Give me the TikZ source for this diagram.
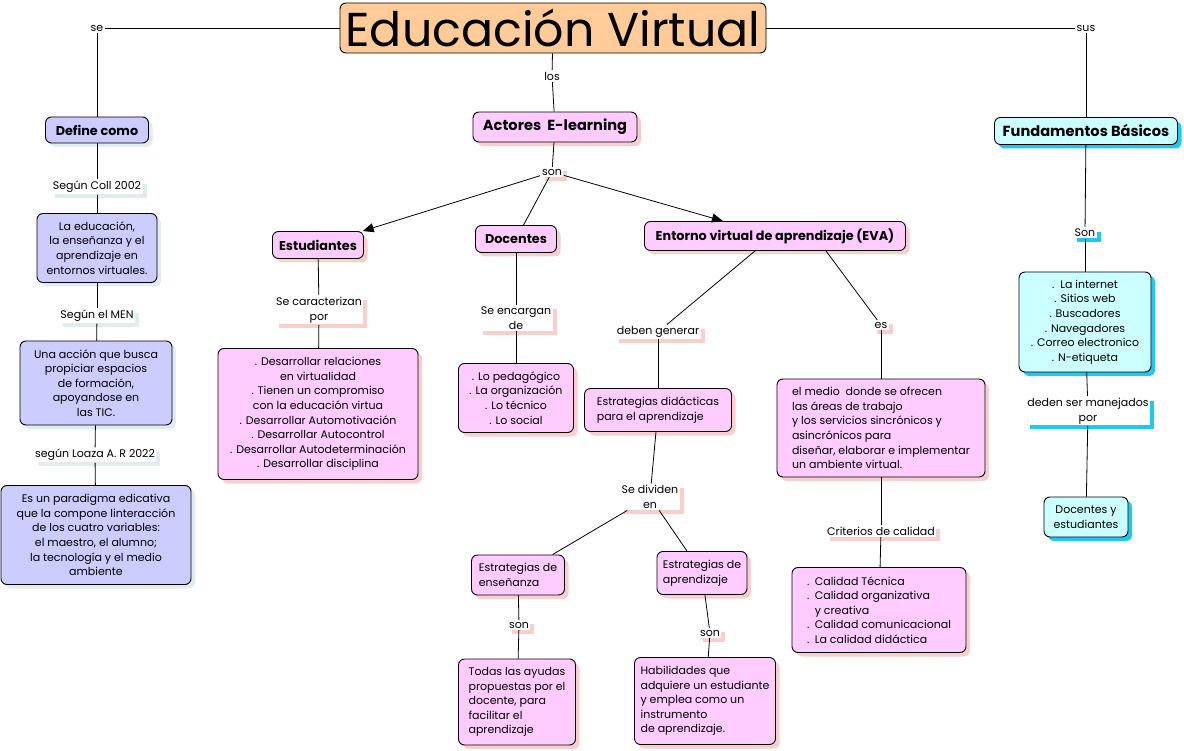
\documentclass[tikz,border=0pt]{standalone}
\usepackage{fontspec}
\setmainfont{Poppins}
\usepackage{tikz}
\usetikzlibrary{shadows,arrows.meta}
\definecolor{boxpeach}{HTML}{FFCC99}
\definecolor{boxblue}{HTML}{CCCCFF}
\definecolor{boxpink}{HTML}{FFCCFF}
\definecolor{boxcyan}{HTML}{CCFFFF}
\definecolor{shadowblue}{HTML}{E2ECEF}
\definecolor{shadowpink}{HTML}{F8CFCF}
\definecolor{shadowcyan}{HTML}{1EC8F0}
\tikzset{
	every concept/.style={
		draw,
		rounded corners=6pt,
		line width=0.9pt,
		align=center,
		inner sep=3pt,
		font=\fontsize{11}{14.6}\selectfont },
	concept blue/.style={
		fill=boxblue,
		drop shadow={shadow xshift=4pt, shadow yshift=-4pt, fill=shadowblue, opacity=1} },
	concept pink/.style={
		fill=boxpink,
		drop shadow={shadow xshift=4pt, shadow yshift=-4pt, fill=shadowpink, opacity=1} },
	concept cyan/.style={
		fill=boxcyan,
		drop shadow={shadow xshift=4pt, shadow yshift=-4pt, fill=shadowcyan, opacity=1} },
	head/.style={
		font=\fontsize{12.8}{15}\selectfont\bfseries },
	big head/.style={
		font=\fontsize{14.6}{17}\selectfont\bfseries },
	every phrase/.style={
		fill=white,
		inner sep=1.5pt,
		align=center,
		font=\fontsize{11}{14.6}\selectfont },
	phrase blue/.style={
		drop shadow={shadow xshift=4pt, shadow yshift=-4pt, fill=shadowblue, opacity=1} },
	phrase pink/.style={
		drop shadow={shadow xshift=4pt, shadow yshift=-4pt, fill=shadowpink, opacity=1} },
	phrase cyan/.style={
		drop shadow={shadow xshift=4pt, shadow yshift=-4pt, fill=shadowcyan, opacity=1} },
}
\begin{document}
\begin{tikzpicture}[x=1pt, y=-1pt, line width=0.8pt, >={Triangle[length=11pt,width=9pt]}]
	\useasboundingbox (0,0) rectangle (1184,751);

	\node [every concept, fill=boxpeach, minimum width=426pt, minimum height=50pt, font=\fontsize{47.5}{50}\selectfont] (title) at (553,28) {Educación Virtual};

	\node [every phrase] (se) at (97,28) {se};
	\node [every concept, concept blue, head, minimum width=103pt, minimum height=26pt] (define) at (97,130) {Define como};
	\node [every phrase, phrase blue] (coll) at (97,187) {Según Coll 2002};
	\node [every concept, concept blue, minimum width=120pt, minimum height=69pt] (educ) at (97,248) {La educación,\\la enseñanza y el\\aprendizaje en\\entornos virtuales.};
	\node [every phrase, phrase blue] (men) at (97,316) {Según el MEN};
	\node [every concept, concept blue, minimum width=152pt, minimum height=84pt] (accion) at (96,383) {Una acción que busca\\propiciar espacios\\de formación,\\apoyandose en\\las TIC.};
	\node [every phrase, phrase blue] (loaza) at (95,455) {según Loaza A. R 2022};
	\node [every concept, concept blue, minimum width=190pt, minimum height=99pt] (paradigma) at (96,535) {Es un paradigma edicativa\\que la compone linteracción\\de los cuatro variables:\\el maestro, el alumno;\\la tecnología y el medio\\ambiente};

	\node [every phrase] (los) at (552,76) {los};
	\node [every concept, concept pink, big head, minimum width=164pt, minimum height=30pt] (actores) at (555,127) {Actores\ \ E-learning};
	\node [every phrase, phrase pink] (son) at (552,172) {son};
	\node [every concept, concept pink, head, minimum width=91pt, minimum height=27pt] (estud) at (318,245) {Estudiantes};
	\node [every concept, concept pink, head, minimum width=81pt, minimum height=27pt] (docen) at (516,239) {Docentes};
	\node [every concept, concept pink, head, minimum width=261pt, minimum height=29pt] (eva) at (775,236) {Entorno virtual de aprendizaje (EVA)};

	\node [every phrase, phrase pink] (caract) at (319,310) {Se caracterizan\\por};
	\node [every concept, concept pink, minimum width=200pt, minimum height=131pt] (desarr) at (318,414) {. Desarrollar relaciones\\en virtualidad\\. Tienen un compromiso\\con la educación virtua\\. Desarrollar Automotivación\\. Desarrollar Autocontrol\\. Desarrollar Autodeterminación\\. Desarrollar disciplina};
	\node [every phrase, phrase pink] (encarg) at (516,318) {Se encargan\\de};
	\node [every concept, concept pink, minimum width=115pt, minimum height=69pt] (pedag) at (516,398) {. Lo pedagógico\\. La organización\\. Lo técnico\\. Lo social};

	\node [every phrase, phrase pink] (debgen) at (658,332) {deben generar};
	\node [every concept, concept pink, align=left, minimum width=147pt, minimum height=43pt] (estdid) at (658,410) {Estrategias didácticas\\para el aprendizaje};
	\node [every phrase, phrase pink] (divid) at (650,497) {Se dividen\\en};
	\node [every concept, concept pink, align=left, minimum width=93pt, minimum height=40pt] (ensen) at (518,575) {Estrategias de\\enseñanza};
	\node [every concept, concept pink, align=left, minimum width=90pt, minimum height=43pt] (aprend) at (702,573) {Estrategias de\\aprendizaje};
	\node [every phrase, phrase pink] (sonA) at (519,625) {son};
	\node [every phrase, phrase pink] (sonB) at (710,633) {son};
	\node [every concept, concept pink, align=left, minimum width=117pt, minimum height=86pt] (ayudas) at (517,702) {Todas las ayudas\\propuestas por el\\docente, para\\facilitar el\\aprendizaje};
	\node [every concept, concept pink, align=left, minimum width=141pt, minimum height=87pt] (habil) at (705,701) {Habilidades que\\adquiere un estudiante\\y emplea como un\\instrumento\\de aprendizaje.};

	\node [every phrase, phrase pink] (es) at (881,325) {es};
	\node [every concept, concept pink, align=left, minimum width=208pt, minimum height=98pt] (medio) at (881,428) {el medio\ \ donde se ofrecen\\las áreas de trabajo\\y los servicios sincrónicos y\\asincrónicos para\\diseñar, elaborar e implementar\\un ambiente virtual.};
	\node [every phrase, phrase pink] (crit) at (881,531) {Criterios de calidad};
	\node [every concept, concept pink, align=left, minimum width=174pt, minimum height=85pt] (calidad) at (879,610) {.\enspace Calidad Técnica\\.\enspace Calidad organizativa\\\phantom{.\enspace}y creativa\\.\enspace Calidad comunicacional\\.\enspace La calidad didáctica};

	\node [every phrase] (sus) at (1086,28) {sus};
	\node [every concept, concept cyan, big head, minimum width=183pt, minimum height=27pt] (fund) at (1086,131) {Fundamentos Básicos};
	\node [every phrase, phrase cyan] (sonC) at (1085,233) {Son};
	\node [every concept, concept cyan, minimum width=132pt, minimum height=100pt] (internet) at (1085,322) {.\ \ La internet\\. Sitios web\\. Buscadores\\. Navegadores\\. Correo electronico\\. N-etiqueta};
	\node [every phrase, phrase cyan] (deden) at (1088,411) {deden ser manejados\\por};
	\node [every concept, concept cyan, minimum width=84pt, minimum height=40pt] (docest) at (1086,517) {Docentes y\\estudiantes};

	\foreach \a/\b in {title/se, se/define, define/coll, coll/educ, educ/men, men/accion, accion/loaza, loaza/paradigma, title/los, los/actores, actores/son, son/docen, estud/caract, caract/desarr, docen/encarg, encarg/pedag, debgen/estdid, es/medio, estdid/divid, divid/ensen, divid/aprend, ensen/sonA, sonA/ayudas, aprend/sonB, sonB/habil, medio/crit, crit/calidad, title/sus, sus/fund, fund/sonC, sonC/internet, internet/deden, deden/docest}
	\draw (\a) -- (\b);

	\foreach \b in {estud, eva}
	\draw [->] (son) -- (\b);

	\draw ([xshift=-20pt]eva.south) -- (debgen);
	\draw ([xshift=51pt]eva.south) -- (es);
\end{tikzpicture}
\end{document}
